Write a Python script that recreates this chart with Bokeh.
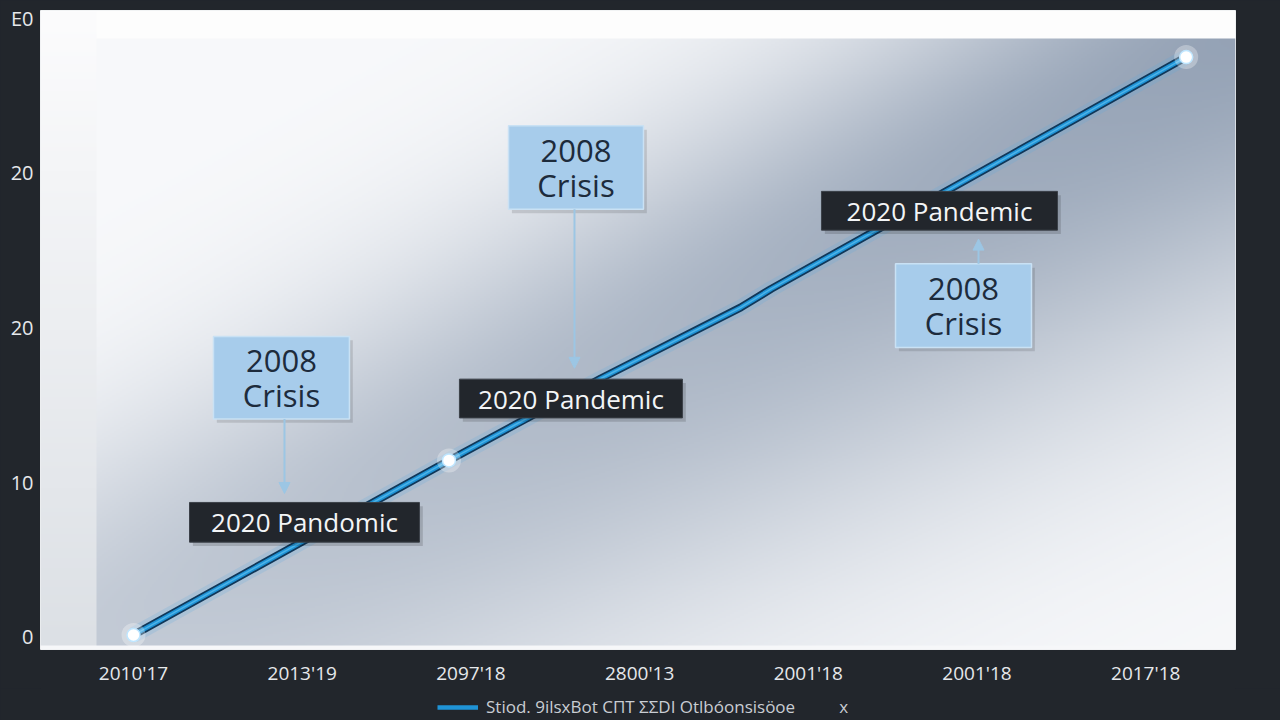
import numpy as np
from bokeh.plotting import figure
from bokeh.layouts import column
from bokeh.models import Range1d, Legend, LegendItem, Arrow, NormalHead, FixedTicker
from bokeh.core.properties import value
from bokeh.embed import file_html
from bokeh.resources import INLINE

# ---------------- data ----------------
x_tick_pos = [0, 1, 2, 3, 4, 5, 6]
x_labels = ["2010'17", "2013'19", "2097'18", "2800'13", "2001'18", "2001'18", "2017'18"]
y_tick_pos = [0, 10, 20, 30, 40]
y_labels = ["0", "10", "20", "20", "E0"]

series_x = [0.0, 1.87, 2.77, 3.60, 3.78, 6.24]
series_y = [0.1, 11.4, 16.7, 21.3, 22.5, 37.5]
marker_x = [0.0, 1.87, 6.24]
marker_y = [0.1, 11.4, 37.5]
legend_label = "Stiod. 9ilsxBot C\u03a0T \u03a3\u03a3DI Otlb\u00f3onsis\u00f6oe" + "\u00a0" * 10 + "x"

crisis_text = ["2008\nCrisis", "2008\nCrisis", "2008\nCrisis"]
pandemic_text = ["2020 Pandomic", "2020 Pandemic", "2020 Pandemic"]

# ---------------- layout of annotations (data coords) ----------------
crisis_boxes = [(0.474, 1.280, 14.08, 19.42), (2.223, 3.023, 27.65, 33.05), (4.517, 5.323, 18.71, 24.12)]
pandemic_boxes = [(0.332, 1.695, 6.11, 8.68), (1.932, 3.254, 14.15, 16.66), (4.078, 5.477, 26.30, 28.81)]
arrows = [(0.895, 14.08, 0.895, 9.26), (2.614, 27.65, 2.614, 17.36), (5.009, 24.12, 5.009, 25.72)]

X0, X1 = -0.5513, 6.5323
Y0, Y1 = -0.836, 40.514

BG = "#22262c"
p = figure(width=1280, height=688, output_backend="svg", toolbar_location=None,
           x_range=Range1d(X0, X1), y_range=Range1d(Y0, Y1),
           min_border_left=40, min_border_right=45, min_border_top=10, min_border_bottom=35,
           background_fill_color="#f4f5f7", border_fill_color=BG)
p.outline_line_color = "#eef0f2"
p.grid.visible = False

# ---------------- background gradient ----------------
W, H = 598, 322
px = np.linspace(40, 1235, W)
py = np.linspace(653, 10, H)
PX, PY = np.meshgrid(px, py)
u = (PX - 96) / 1139.0
w = (650 - PY) / 612.0
s = w - u
t = np.clip((u + w) / 2, 0, 1)
sig = np.where(s > 0, 0.34, 0.50)
D = np.exp(-(s / sig) ** 2) * (0.48 + 0.42 * t)
light = np.array([248, 249, 251], dtype=float)
dark = np.array([138, 153, 174], dtype=float)
rgb = light * (1 - D[..., None]) + dark * D[..., None]
left = PX < 96
f = ((PY - 10) / 643.0)[..., None]
strip = np.array([252, 252, 253.0]) * (1 - f) + np.array([220, 224, 229.0]) * f
rgb[left] = strip[left]
rgb[(PY < 38) & ~left] = [253, 253, 253]
rgb[PY > 650] = [246, 247, 249]
img = np.empty((H, W), dtype=np.uint32)
view = img.view(dtype=np.uint8).reshape((H, W, 4))
view[..., 0] = rgb[..., 0].astype(np.uint8)
view[..., 1] = rgb[..., 1].astype(np.uint8)
view[..., 2] = rgb[..., 2].astype(np.uint8)
view[..., 3] = 255
p.image_rgba(image=[img], x=X0, y=Y0, dw=X1 - X0, dh=Y1 - Y0)

# ---------------- series ----------------
p.line(series_x, series_y, line_color="#5aa9e0", line_alpha=0.2, line_width=16)
p.line(series_x, series_y, line_color="#10385a", line_width=8)
p.line(series_x, series_y, line_color="#1f93d6", line_width=4.5)
p.line(series_x, series_y, line_color="#6cc8f4", line_width=1.5, line_alpha=0.6)
p.scatter(marker_x, marker_y, size=24, fill_color="#ffffff", fill_alpha=0.3, line_color=None)
p.scatter(marker_x, marker_y, size=13, fill_color="#ffffff", line_color="#bfe6ff", line_width=1.5)

# ---------------- annotations ----------------
for (l, r, b, tp) in crisis_boxes:
    p.quad(left=[l + 0.02], right=[r + 0.02], bottom=[b - 0.25], top=[tp - 0.25], fill_color="#000000", fill_alpha=0.12, line_color=None)
    p.quad(left=[l], right=[r], bottom=[b], top=[tp], fill_color="#a7cceb", line_color="#c9e1f4", line_width=1.5)
for (l, r, b, tp) in pandemic_boxes:
    p.quad(left=[l + 0.02], right=[r + 0.02], bottom=[b - 0.25], top=[tp - 0.25], fill_color="#000000", fill_alpha=0.15, line_color=None)
    p.quad(left=[l], right=[r], bottom=[b], top=[tp], fill_color="#22262c", line_color="#3b4048", line_width=1)

p.text(x=[(b[0] + b[1]) / 2 for b in crisis_boxes], y=[(b[2] + b[3]) / 2 for b in crisis_boxes], text=crisis_text,
       text_align="center", text_baseline="middle", text_font=value("Open Sans"), text_font_size="31px",
       text_color="#1d2b3c", text_line_height=0.84)
p.text(x=[(b[0] + b[1]) / 2 for b in pandemic_boxes], y=[(b[2] + b[3]) / 2 for b in pandemic_boxes], text=pandemic_text,
       text_align="center", text_baseline="middle", text_font=value("Open Sans"), text_font_size="26px",
       text_color="#f3f5f7")

for (xs, ys, xe, ye) in arrows:
    p.add_layout(Arrow(end=NormalHead(size=11, fill_color="#9cc6e4", line_color="#9cc6e4"),
                       x_start=xs, y_start=ys, x_end=xe, y_end=ye, line_color="#9cc6e4", line_width=2))

# ---------------- axes ----------------
p.xaxis.ticker = FixedTicker(ticks=x_tick_pos)
p.xaxis.major_label_overrides = {k: v for k, v in zip(x_tick_pos, x_labels)}
p.yaxis.ticker = FixedTicker(ticks=y_tick_pos)
p.yaxis.major_label_overrides = {k: v for k, v in zip(y_tick_pos, y_labels)}
for ax in (p.xaxis, p.yaxis):
    ax.axis_line_color = None
    ax.major_tick_line_color = None
    ax.minor_tick_line_color = None
    ax.major_tick_out = 0
    ax.minor_tick_out = 0
    ax.major_label_text_color = "#e6e8eb"
    ax.major_label_text_font = "Open Sans"
p.xaxis.major_label_text_font_size = "19px"
p.xaxis.major_label_standoff = 10
p.yaxis.major_label_text_font_size = "20px"
p.yaxis.major_label_standoff = 7

# ---------------- legend strip ----------------
lg = figure(width=1280, height=32, output_backend="svg", toolbar_location=None,
            x_range=Range1d(0, 1), y_range=Range1d(0, 1), x_axis_type=None, y_axis_type=None,
            min_border=0, background_fill_color=BG, border_fill_color=BG)
lg.outline_line_color = None
lg.grid.visible = False
key = lg.line(x=[-5, -4], y=[-5, -5], line_color="#1f93d6", line_width=4.5)
legend = Legend(items=[LegendItem(label=legend_label, renderers=[key])], location=(395, 0),
                label_text_font_size="17px", label_text_color="#c9cdd3", label_text_font="Open Sans",
                glyph_width=41, glyph_height=20, label_standoff=8, padding=2, margin=0,
                background_fill_alpha=0, border_line_alpha=0)
lg.add_layout(legend)

page = column(p, lg, spacing=0)
html = file_html(page, INLINE)
html = html.replace("<head>", "<head><style>html,body{background:#22262c;}</style>", 1)
open("out.html", "w").write(html)
